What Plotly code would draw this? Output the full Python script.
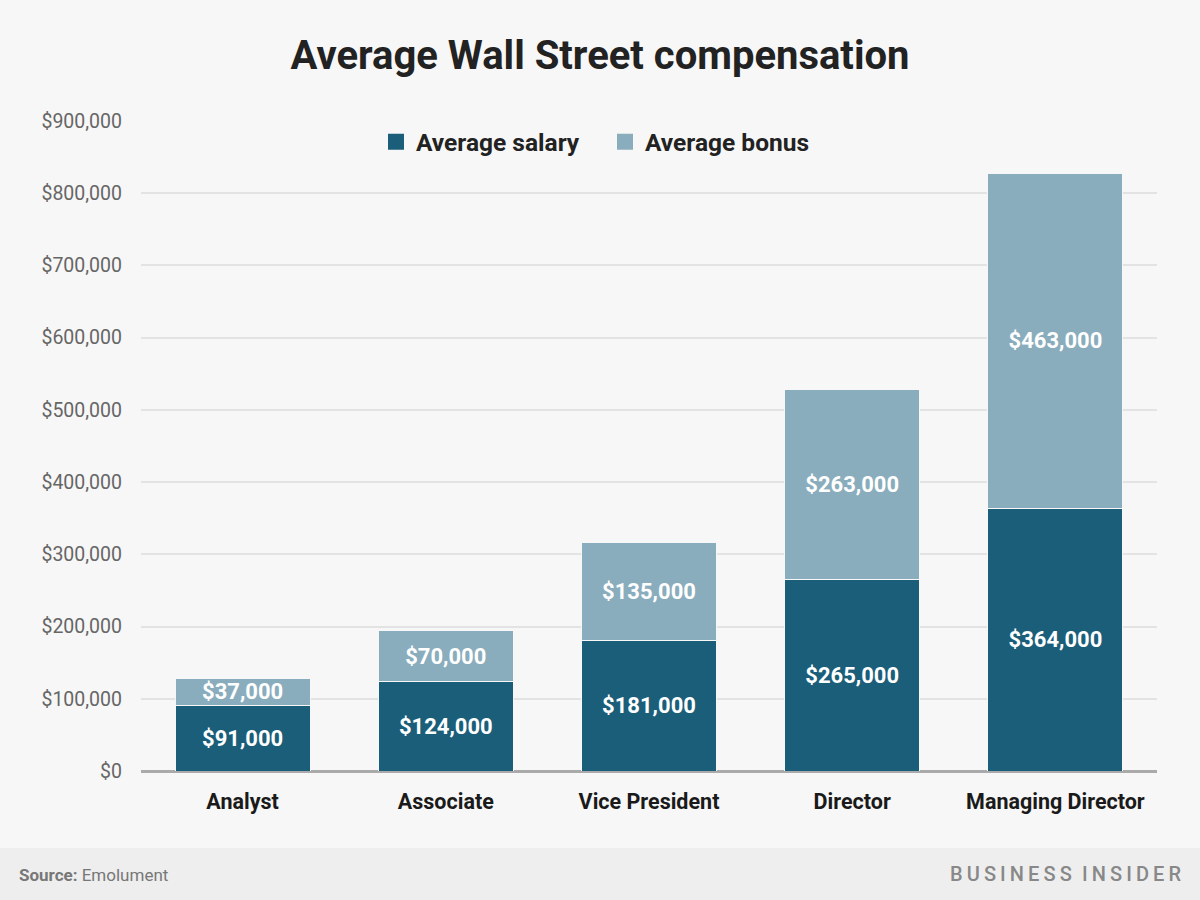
import plotly.graph_objects as go

# data
roles = ["Analyst", "Associate", "Vice President", "Director", "Managing Director"]
salary = [91000, 124000, 181000, 265000, 364000]
bonus = [37000, 70000, 135000, 263000, 463000]
y_ticks = [0, 100000, 200000, 300000, 400000, 500000, 600000, 700000, 800000, 900000]
y_labels = ["$" + format(v, ",") for v in y_ticks]

dark = "#1a5e7a"
light = "#8aadbd"
bg = "#f7f7f7"

fig = go.Figure()
fig.add_trace(go.Bar(x=roles, y=salary, name="Average salary", marker_color=dark,
                     marker_line=dict(color=bg, width=1),
                     texttemplate="$%{y:,.0f}", textposition="inside",
                     insidetextanchor="middle", textangle=0,
                     textfont=dict(family="Roboto", size=22, color="white", weight="bold"),
                     showlegend=False))
fig.add_trace(go.Bar(x=roles, y=bonus, name="Average bonus", marker_color=light,
                     marker_line=dict(color=bg, width=1),
                     texttemplate="$%{y:,.0f}", textposition="inside",
                     insidetextanchor="middle", textangle=0,
                     textfont=dict(family="Roboto", size=22, color="white", weight="bold"),
                     showlegend=False))
# legend entries with big square swatches
fig.add_trace(go.Scatter(x=[roles[0]], y=[None], mode="markers", name="Average salary",
                         marker=dict(symbol="square", size=22, color=dark)))
fig.add_trace(go.Scatter(x=[roles[0]], y=[None], mode="markers", name="Average bonus",
                         marker=dict(symbol="square", size=22, color=light)))

fig.update_layout(
    barmode="stack",
    bargap=0.336,
    width=1200, height=900,
    margin=dict(l=141, r=43, t=121, b=129, autoexpand=False),
    paper_bgcolor=bg, plot_bgcolor=bg,
    font=dict(family="Roboto"),
    title=dict(text="<b>Average Wall Street compensation</b>", x=0.5, xanchor="center",
               y=1 - 55 / 900, yanchor="middle",
               font=dict(family="Roboto", size=40, color="#222222")),
    legend=dict(orientation="h", x=(605 - 141) / 1016, xanchor="center",
                y=0.968, yanchor="middle", bgcolor="rgba(0,0,0,0)",
                traceorder="normal", entrywidth=184, itemwidth=30,
                font=dict(family="Roboto", size=24.5, color="#222222", weight="bold")),
    uniformtext=dict(minsize=22, mode="show"),
)
fig.update_xaxes(showgrid=False, showline=False, ticks="", ticklabelstandoff=15,
                 tickangle=0,
                 tickfont=dict(family="Roboto", size=21.5, color="#1a1a1a", weight="bold"))
fig.update_yaxes(range=[0, 900000], tickvals=y_ticks, ticktext=y_labels,
                 showgrid=True, gridcolor="#e3e3e3", gridwidth=2,
                 zeroline=True, zerolinecolor="#aaaaaa", zerolinewidth=3,
                 ticks="", ticklabelstandoff=18,
                 tickfont=dict(family="Roboto", size=19.5, color="#666666"))

# footer band
fig.add_shape(type="rect", xref="paper", yref="paper",
              x0=-0.14, x1=1.05, y0=-0.2, y1=-0.1185,
              fillcolor="#eeeeee", line_width=0, layer="below")
fig.add_annotation(text="<b>Source:</b> Emolument", xref="paper", yref="paper",
                   x=(17 - 141) / 1016, y=(771 - 875) / 650, xanchor="left", yanchor="middle",
                   showarrow=False, font=dict(family="Roboto", size=17, color="#777777"))
fig.add_annotation(text="B\u2009U\u2009S\u2009I\u2009N\u2009E\u2009S\u2009S\u2002I\u2009N\u2009S\u2009I\u2009D\u2009E\u2009R",
                   xref="paper", yref="paper",
                   x=(1183 - 141) / 1016, y=(771 - 874) / 650, xanchor="right", yanchor="middle",
                   showarrow=False, font=dict(family="Roboto", size=20, color="#888888", weight=500))

fig.write_html("out.html", config={"displayModeBar": False},
               post_script="document.body.style.margin='0';")
